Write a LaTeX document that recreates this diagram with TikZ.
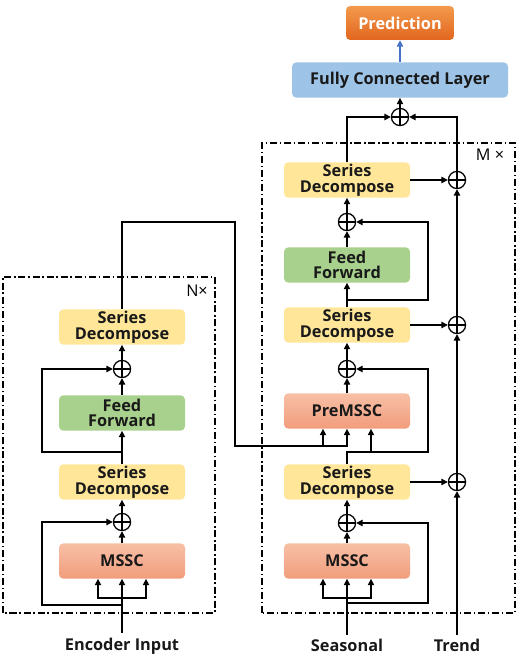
\documentclass[tikz,border=0pt]{standalone}
\usepackage{fontspec}
\setmainfont{Open Sans}
\usetikzlibrary{positioning,arrows.meta,calc}

\definecolor{jaune}{HTML}{FFE699}
\definecolor{vert}{HTML}{A9D18E}
\definecolor{saumonA}{HTML}{F8C0A6}
\definecolor{saumonB}{HTML}{F19C7C}
\definecolor{orangeA}{HTML}{F39A4C}
\definecolor{orangeB}{HTML}{E2661F}
\definecolor{bleuFC}{HTML}{9DC3E6}
\definecolor{bleuFl}{HTML}{4472C4}

\begin{document}
\begin{tikzpicture}[
    bloc/.style={rounded corners=3pt,minimum width=3.15cm,minimum height=0.88cm,align=center,
        inner sep=1pt,font=\fontsize{11.6}{11.2}\selectfont\bfseries,text=black!90},
    sd/.style={bloc,fill=jaune},
    ff/.style={bloc,fill=vert},
    mssc/.style={bloc,top color=saumonA,bottom color=saumonB},
    somme/.style={circle,draw,line width=0.9pt,minimum size=0.43cm,inner sep=0pt,
        path picture={\draw[line width=0.9pt] (path picture bounding box.north) -- (path picture bounding box.south)
            (path picture bounding box.west) -- (path picture bounding box.east);}},
    fl/.style={-{Triangle[length=4.5pt,width=4.5pt]},line width=0.9pt},
    pile/.style={draw,line width=0.9pt,dash pattern=on 5pt off 2pt on 1pt off 2pt},
    lab/.style={font=\fontsize{11.6}{11.6}\selectfont\bfseries,text=black!90}
]
    \useasboundingbox (0,0) rectangle (12.975,16.425);

    % Blocs N x et M x
    \draw[pile] (0.075,1.1) rectangle (5.375,9.5);
    \node[font=\fontsize{11.5}{11.5}\selectfont] (nfois) at (4.925,9.15) {N×};
    \draw[pile] (6.55,1.1) rectangle (12.875,12.85);
    \node[font=\fontsize{11.5}{11.5}\selectfont] (mfois) at (12.25,12.55) {M ×};

    % Sortie
    \node[bloc,minimum width=2.7cm,minimum height=0.85cm,top color=orangeA,bottom color=orangeB,text=white] (pred) at (10.0,15.85) {Prediction};
    \node[bloc,minimum width=5.4cm,fill=bleuFC] (fc) at (10.0,14.425) {Fully Connected Layer};
    \draw[fl,bleuFl] (fc.north) -- (pred.south);
    \node[somme] (top) at (10.0,13.5) {};
    \draw[fl] (top.north) -- (fc.south);

    % Encodeur
    \node[sd] (eSD2) at (3.05,8.25) {Series\\Decompose};
    \node[somme] (eP2) at (3.05,7.2) {};
    \node[ff] (eFF) at (3.05,6.1) {Feed\\Forward};
    \node[sd] (eSD1) at (3.05,4.375) {Series\\Decompose};
    \node[somme] (eP1) at (3.05,3.375) {};
    \node[mssc] (eMSSC) at (3.05,2.4) {MSSC};
    \node[lab] (enc) at (3.05,0.28) {Encoder Input};

    \draw[fl] (enc.north) -- (eMSSC.south);
    \coordinate (ebar) at (3.05,1.475);
    \coordinate (eL) at ($(eMSSC.south)+(-0.6,0)$);
    \coordinate (eR) at ($(eMSSC.south)+(0.6,0)$);
    \draw[fl] (ebar) -| (eL);
    \draw[fl] (ebar) -| (eR);
    \coordinate (eskip1) at (1.05,1.3);
    \draw[fl] (eMSSC.south |- eskip1) -- (eskip1) |- (eP1.west);
    \draw[fl] (eMSSC.north) -- (eP1.south);
    \draw[fl] (eP1.north) -- (eSD1.south);
    \draw[fl] (eSD1.north) -- (eFF.south);
    \coordinate (eskip2) at (1.05,5.125);
    \draw[fl] (eSD1.north |- eskip2) -- (eskip2) |- (eP2.west);
    \draw[fl] (eFF.north) -- (eP2.south);
    \draw[fl] (eP2.north) -- (eSD2.south);

    % Decodeur
    \node[sd] (dSD3) at (8.675,11.925) {Series\\Decompose};
    \node[somme] (dP3) at (8.675,10.875) {};
    \node[ff] (dFF) at (8.675,9.8) {Feed\\Forward};
    \node[sd] (dSD2) at (8.675,8.3) {Series\\Decompose};
    \node[somme] (dP2) at (8.675,7.2) {};
    \node[mssc] (dPre) at (8.675,6.15) {PreMSSC};
    \node[sd] (dSD1) at (8.675,4.375) {Series\\Decompose};
    \node[somme] (dP1) at (8.675,3.35) {};
    \node[mssc] (dMSSC) at (8.675,2.4) {MSSC};
    \node[lab] (seas) at (8.675,0.28) {Seasonal};

    \draw[fl] (seas.north) -- (dMSSC.south);
    \coordinate (dbar) at (8.675,1.475);
    \coordinate (dL) at ($(dMSSC.south)+(-0.6,0)$);
    \coordinate (dR) at ($(dMSSC.south)+(0.6,0)$);
    \draw[fl] (dbar) -| (dL);
    \draw[fl] (dbar) -| (dR);
    \coordinate (dskip1) at (10.7,1.35);
    \draw[fl] (dMSSC.south |- dskip1) -- (dskip1) |- (dP1.east);
    \draw[fl] (dMSSC.north) -- (dP1.south);
    \draw[fl] (dP1.north) -- (dSD1.south);

    % Entrees de PreMSSC
    \coordinate (dskip2) at (10.7,5.125);
    \coordinate (preL) at ($(dPre.south)+(-0.6,0)$);
    \coordinate (preR) at ($(dPre.south)+(0.6,0)$);
    \draw[fl] (dSD1.north) |- (dskip2) |- (dP2.east);
    \draw[fl] (preR |- dskip2) -- (preR);
    \coordinate (ecoude) at (5.875,10.875);
    \coordinate (ebas) at (5.875,5.275);
    \draw[fl] (eSD2.north) |- (ecoude) -- (ebas) -| (dPre.south);
    \draw[fl] (preL |- ebas) -- (preL);

    \draw[fl] (dPre.north) -- (dP2.south);
    \draw[fl] (dP2.north) -- (dSD2.south);
    \draw[fl] (dSD2.north) -- (dFF.south);
    \coordinate (dskip3) at (10.7,8.925);
    \draw[fl] (dSD2.north |- dskip3) -- (dskip3) |- (dP3.east);
    \draw[fl] (dFF.north) -- (dP3.south);
    \draw[fl] (dP3.north) -- (dSD3.south);
    \draw[fl] (dSD3.north) |- (top.west);

    % Tendance
    \node[lab] (trend) at (11.425,0.28) {Trend};
    \node[somme] (tP1) at (11.425,4.375) {};
    \node[somme] (tP2) at (11.425,8.3) {};
    \node[somme] (tP3) at (11.425,11.925) {};
    \draw[fl] (trend.north) -- (tP1.south);
    \draw[fl] (tP1.north) -- (tP2.south);
    \draw[fl] (tP2.north) -- (tP3.south);
    \draw[fl] (tP3.north) |- (top.east);
    \draw[fl] (dSD1.east) -- (tP1.west);
    \draw[fl] (dSD2.east) -- (tP2.west);
    \draw[fl] (dSD3.east) -- (tP3.west);
\end{tikzpicture}
\end{document}
